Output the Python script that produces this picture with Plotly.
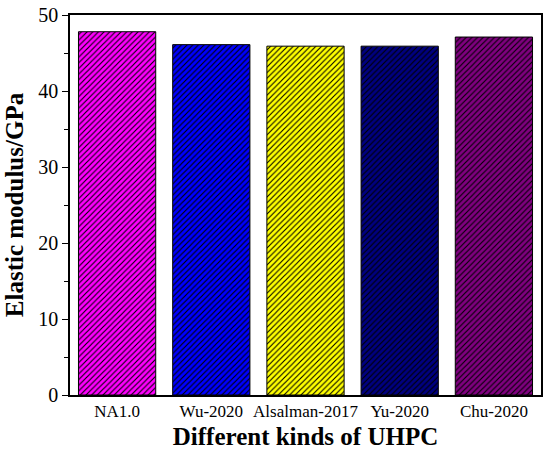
import plotly.graph_objects as go

kinds = ['NA1.0', 'Wu-2020', 'Alsalman-2017', 'Yu-2020', 'Chu-2020']
modulus = [47.8, 46.1, 45.9, 45.9, 47.1]
bar_colors = ['#FF00FF', '#0000FF', '#FFFF00', '#000080', '#800080']

serif = 'Liberation Serif, Times New Roman, serif'

fig = go.Figure()
# one trace per bar: with an array marker.color plotly ignores the pattern fgcolor
for kind, val, col in zip(kinds, modulus, bar_colors):
    fig.add_trace(go.Bar(
        x=[kind],
        y=[val],
        marker=dict(
            color=col,
            line=dict(color='black', width=1),
            pattern=dict(shape='/', fgcolor='black', bgcolor=col,
                         size=4, solidity=0.28, fillmode='replace'),
        ),
        width=0.82,
    ))

fig.update_layout(
    width=550,
    height=456,
    margin=dict(l=70, r=9, t=15, b=61),
    barmode='overlay',
    plot_bgcolor='white',
    paper_bgcolor='white',
    showlegend=False,
    font=dict(family=serif, color='black'),
    xaxis=dict(
        categoryorder='array',
        categoryarray=kinds,
        range=[-0.5, 4.5],
        automargin=False,
        showgrid=False,
        showline=True,
        linecolor='black',
        linewidth=1.5,
        mirror=True,
        ticks='',
        tickfont=dict(size=17),
        title=dict(text='<b>Different kinds of UHPC</b>', font=dict(size=25), standoff=7),
    ),
    yaxis=dict(
        range=[0, 50],
        dtick=10,
        automargin=False,
        showgrid=False,
        zeroline=False,
        showline=True,
        linecolor='black',
        linewidth=1.5,
        mirror=True,
        ticks='outside',
        ticklen=6,
        tickwidth=1.2,
        tickcolor='black',
        tickfont=dict(size=20),
        minor=dict(dtick=5, ticks='outside', ticklen=4, tickcolor='black', tickwidth=1.2),
        title=dict(text='<b>Elastic modulus/GPa</b>', font=dict(size=25), standoff=8),
    ),
)

# the page has a default body margin, drop it so the figure sits at 0,0
fig.write_html("out.html", config={'displayModeBar': False},
               post_script="document.body.style.margin='0';")
